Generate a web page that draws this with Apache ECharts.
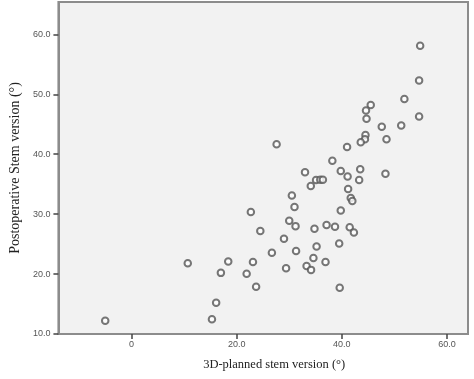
<!DOCTYPE html>
<html>
<head>
<meta charset="utf-8">
<script src="https://cdn.jsdelivr.net/npm/echarts@6/dist/echarts.min.js"></script>
<style>
html,body{margin:0;padding:0;background:#fff;}
#c{width:474px;height:379px;}
</style>
</head>
<body>
<div id="c"></div>
<script>
// 3D-planned stem version (x) vs postoperative stem version (y)
const plannedVersion = [
  54.9, 54.7, 51.9, 45.5, 44.6, 44.7, 54.7, 47.6, 51.3, 44.5,
  44.4, 43.6, 48.5, 41.0, 27.6, 38.2, 39.8, 43.5, 33.0, 41.1,
  48.3, 43.3, 35.1, 35.9, 36.4, 34.1, 41.2, 30.5, 41.7, 42.0,
  31.0, 22.7, 39.8, 30.0, 31.2, 24.5, 34.8, 37.1, 38.7, 41.5,
  42.3, 29.0, 39.5, 35.2, 26.7, 31.3, 34.6, 36.9, 23.1, 18.4,
  10.7, 33.3, 34.15, 29.4, 21.9, 17.0, 23.7, 39.6, 16.1, 15.3,
  -5.0
];
const postopVersion = [
  58.1, 52.3, 49.2, 48.2, 47.3, 45.9, 46.3, 44.6, 44.8, 43.2,
  42.5, 42.0, 42.5, 41.2, 41.65, 38.9, 37.2, 37.5, 37.0, 36.3,
  36.75, 35.7, 35.7, 35.75, 35.75, 34.7, 34.2, 33.1, 32.7, 32.2,
  31.2, 30.35, 30.6, 28.9, 28.0, 27.2, 27.55, 28.2, 27.9, 27.8,
  26.95, 25.9, 25.1, 24.6, 23.55, 23.85, 22.7, 22.0, 22.0, 22.1,
  21.8, 21.35, 20.7, 20.97, 20.07, 20.2, 17.9, 17.7, 15.2, 12.45,
  12.2
];
const xTickValues = [0, 20, 40, 60];
const yTickValues = [10, 20, 30, 40, 50, 60];
const xTitle = '3D-planned stem version (°)';
const yTitle = 'Postoperative Stem version (°)';

const points = plannedVersion.map((v, i) => [v, postopVersion[i]]);
const fmt = v => (v === 0 ? '0' : v.toFixed(1));

const chart = echarts.init(document.getElementById('c'), null, {renderer: 'canvas'});
chart.setOption({
  animation: false,
  backgroundColor: '#ffffff',
  grid: {
    left: 50, top: 2, right: 6, bottom: 45,
    show: true,
    backgroundColor: '#f2f2f2',
    borderColor: '#8c8c8c',
    borderWidth: 2
  },
  xAxis: {
    type: 'value',
    min: -13.9, max: 64,
    splitLine: {show: false},
    axisLine: {show: true, onZero: false, lineStyle: {color: '#8c8c8c', width: 2}},
    axisTick: {show: true, length: 5, customValues: xTickValues, lineStyle: {color: '#444', width: 1.5}},
    axisLabel: {
      customValues: xTickValues, formatter: fmt, margin: 6,
      fontFamily: 'Liberation Sans', fontSize: 9, color: '#555'
    },
    name: xTitle,
    nameLocation: 'middle',
    nameGap: 24,
    nameTextStyle: {fontFamily: 'Liberation Serif', fontSize: 12.5, color: '#222', padding: [0, 0, 0, 22]}
  },
  yAxis: {
    type: 'value',
    min: 10, max: 65.4,
    splitLine: {show: false},
    axisLine: {show: true, onZero: false, lineStyle: {color: '#8c8c8c', width: 2}},
    axisTick: {show: true, length: 5, customValues: yTickValues, lineStyle: {color: '#444', width: 1.5}},
    axisLabel: {
      customValues: yTickValues, formatter: fmt, margin: 8,
      fontFamily: 'Liberation Sans', fontSize: 9, color: '#555'
    },
    name: yTitle,
    nameLocation: 'middle',
    nameGap: 31,
    nameTextStyle: {fontFamily: 'Liberation Serif', fontSize: 14, color: '#222'}
  },
  series: [{
    type: 'scatter',
    data: points,
    symbol: 'emptyCircle',
    symbolSize: 6.5,
    itemStyle: {color: '#555555', borderColor: '#555555', borderWidth: 1.1}
  }]
});
</script>
</body>
</html>
